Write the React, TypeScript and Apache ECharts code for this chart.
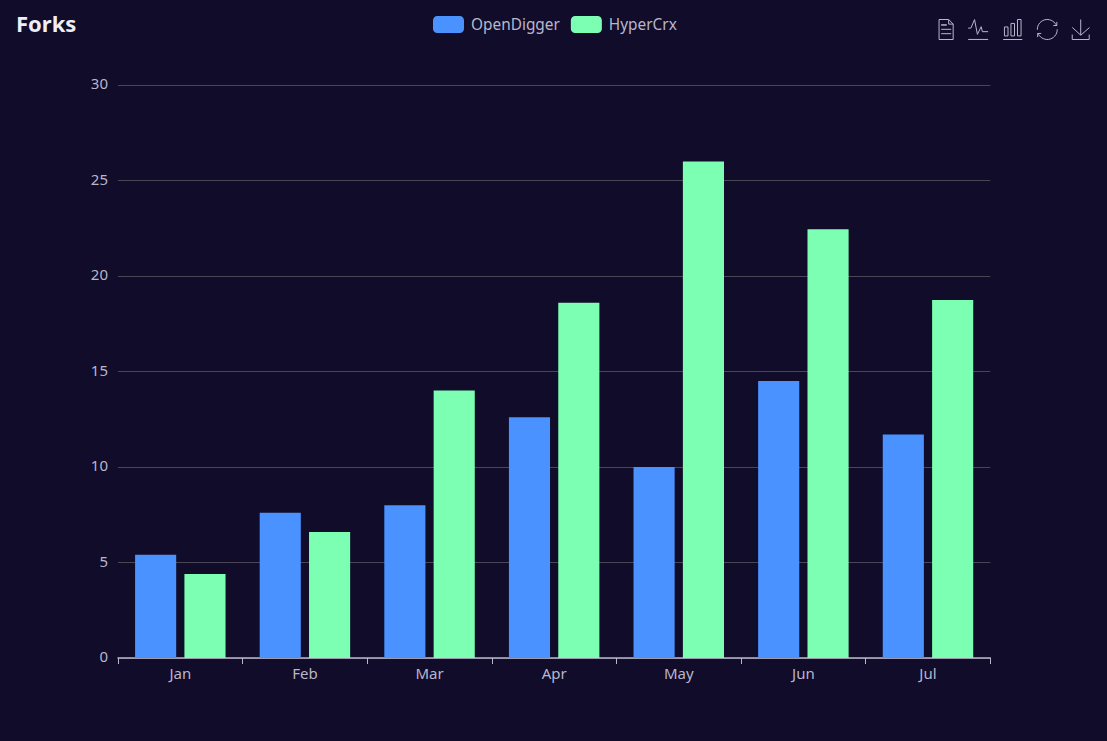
import React, { useEffect, useRef } from "react";
import * as echarts from "echarts";

const categories = ["Jan", "Feb", "Mar", "Apr", "May", "Jun", "Jul"];
const openDigger = [5.4, 7.6, 8, 12.6, 10, 14.5, 11.7];
const hyperCrx = [4.4, 6.6, 14, 18.6, 26, 22.45, 18.75];
const FONT = '"Noto Sans", "Open Sans", sans-serif';
const TEXT = "#b9b6cc";

export default function App() {
  const ref = useRef<HTMLDivElement>(null);
  useEffect(() => {
    document.body.style.margin = "0";
    document.body.style.background = "#100c2a";
    const chart = echarts.init(ref.current!, undefined, { renderer: "svg" });
    chart.setOption({
      animation: false,
      backgroundColor: "#100c2a",
      textStyle: { fontFamily: FONT },
      title: {
        text: "Forks",
        left: 11,
        top: 7,
        textStyle: { color: "#eeeef6", fontSize: 22, fontWeight: "bold", fontFamily: FONT },
      },
      legend: {
        top: 11,
        left: 428,
        itemWidth: 31,
        itemHeight: 17,
        itemGap: 11,
        textStyle: { color: TEXT, fontSize: 15.4, fontFamily: FONT, padding: [0, 0, 0, 2] },
        data: ["OpenDigger", "HyperCrx"],
      },
      toolbox: {
        show: true,
        right: 0,
        top: 2,
        itemSize: 20,
        itemGap: 10,
        iconStyle: { borderColor: "#b9b6cc", color: "none" },
        feature: {
          dataView: { show: true },
          magicType: { show: true, type: ["line", "bar"] },
          restore: { show: true },
          saveAsImage: { show: true },
        },
      },
      grid: { left: 118, right: 116.7, top: 85, bottom: 83, containLabel: false },
      xAxis: {
        type: "category",
        data: categories,
        axisLine: { lineStyle: { color: "#b9b6cc", width: 1.5 } },
        axisTick: { show: true, length: 6, lineStyle: { color: "#b9b6cc" } },
        axisLabel: { color: TEXT, fontSize: 15, margin: 7, fontFamily: FONT },
      },
      yAxis: {
        type: "value",
        min: 0,
        max: 30,
        interval: 5,
        axisLine: { show: false },
        axisTick: { show: false },
        axisLabel: { color: TEXT, fontSize: 15, margin: 10, fontFamily: FONT, verticalAlign: "bottom", lineHeight: 4 },
        splitLine: { lineStyle: { color: "#494756", width: 1 } },
      },
      series: [
        { name: "OpenDigger", type: "bar", data: openDigger, barWidth: "33%", barGap: "20%", itemStyle: { color: "#4992ff" } },
        { name: "HyperCrx", type: "bar", data: hyperCrx, barWidth: "33%", barGap: "20%", itemStyle: { color: "#7cffb2" } },
      ],
    });
    return () => chart.dispose();
  }, []);
  return <div ref={ref} style={{ width: 1107, height: 741 }} />;
}
